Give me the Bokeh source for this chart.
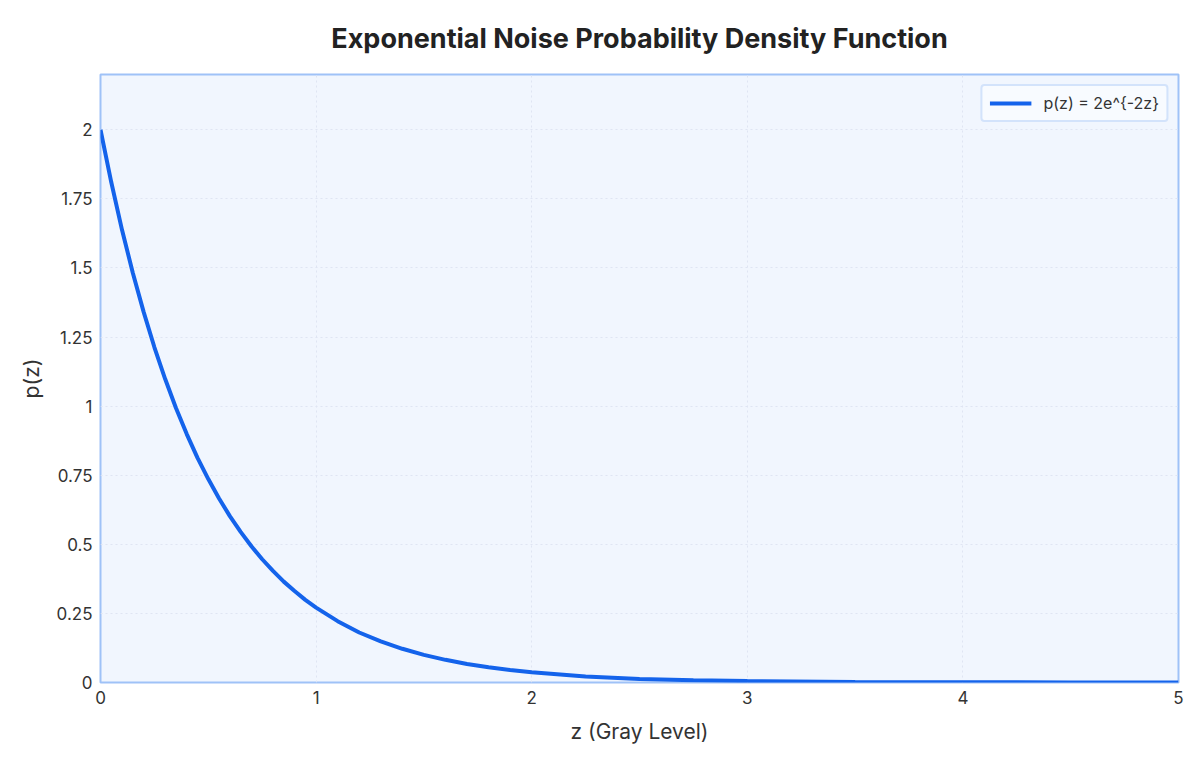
from bokeh.plotting import figure
from bokeh.models import Legend, LegendItem, FixedTicker
from bokeh.embed import file_html
from bokeh.resources import INLINE

# values
z = [0, 0.05, 0.1, 0.15, 0.2, 0.25, 0.3, 0.35, 0.4, 0.45, 0.5,
     0.55, 0.6, 0.65, 0.7, 0.75, 0.8, 0.85, 0.9, 0.95, 1.0,
     1.1, 1.2, 1.3, 1.4, 1.5, 1.6, 1.7, 1.8, 1.9, 2.0,
     2.25, 2.5, 2.75, 3.0, 3.5, 4.0, 4.5, 5.0]
pz = [2.0, 1.81, 1.637, 1.482, 1.341, 1.213, 1.098, 0.993, 0.899, 0.813, 0.736,
      0.666, 0.602, 0.545, 0.493, 0.446, 0.404, 0.365, 0.331, 0.299, 0.271,
      0.222, 0.181, 0.149, 0.122, 0.100, 0.082, 0.067, 0.055, 0.045, 0.037,
      0.022, 0.013, 0.008, 0.005, 0.002, 0.001, 0.0, 0.0]

x_ticks = [0, 1, 2, 3, 4, 5]
y_ticks = [0, 0.25, 0.5, 0.75, 1, 1.25, 1.5, 1.75, 2]
y_labels = ["0", "0.25", "0.5", "0.75", "1", "1.25", "1.5", "1.75", "2"]
series_label = "p(z) = 2e^{-2z}"

FONT = "Inter"

p = figure(width=1200, height=760, x_range=(0, 5), y_range=(0, 2.2),
           output_backend="svg", toolbar_location=None,
           title="Exponential Noise Probability Density Function",
           x_axis_label="z (Gray Level)", y_axis_label="p(z)",
           min_border_left=100, min_border_right=22,
           min_border_top=74, min_border_bottom=78)

p.title.align = "center"
p.title.text_font = FONT
p.title.text_font_size = "27px"
p.title.text_font_style = "bold"
p.title.text_color = "#222222"
p.title.standoff = 39

p.background_fill_color = "#f1f6fe"
p.border_fill_color = "white"
p.outline_line_color = "#9fc2f7"
p.outline_line_width = 2

for ax in (p.xaxis, p.yaxis):
    ax.axis_line_color = None
    ax.major_tick_line_color = None
    ax.minor_tick_line_color = None
    ax.major_label_text_font = FONT
    ax.major_label_text_font_size = "17px"
    ax.major_label_text_color = "#333333"
    ax.axis_label_text_font = FONT
    ax.axis_label_text_font_size = "21px"
    ax.axis_label_text_font_style = "normal"
    ax.axis_label_text_color = "#333333"

p.xaxis.ticker = FixedTicker(ticks=x_ticks)
p.yaxis.ticker = FixedTicker(ticks=y_ticks)
p.yaxis.major_label_overrides = {t: l for t, l in zip(y_ticks, y_labels)}
p.xaxis.major_label_standoff = 2
p.yaxis.major_label_standoff = 2
p.xaxis.axis_label_standoff = 12
p.yaxis.axis_label_standoff = 10

for g in (p.xgrid, p.ygrid):
    g.grid_line_color = "#dfe5f3"
    g.grid_line_dash = "2 3"
    g.grid_line_width = 1

r = p.line(z, pz, line_color="#1463eb", line_width=4)

legend = Legend(items=[LegendItem(label=series_label, renderers=[r])],
                location="top_right")
legend.label_text_font = FONT
legend.label_text_font_size = "16px"
legend.label_text_color = "#333333"
legend.border_line_color = "#aecbf7"
legend.border_line_width = 2
legend.border_radius = 4
legend.background_fill_color = "#f8fbff"
legend.background_fill_alpha = 1
legend.glyph_width = 42
legend.label_standoff = 12
legend.margin = 10
legend.padding = 7
legend.spacing = 0
p.add_layout(legend)

open("out.html", "w").write(file_html(p, INLINE))
